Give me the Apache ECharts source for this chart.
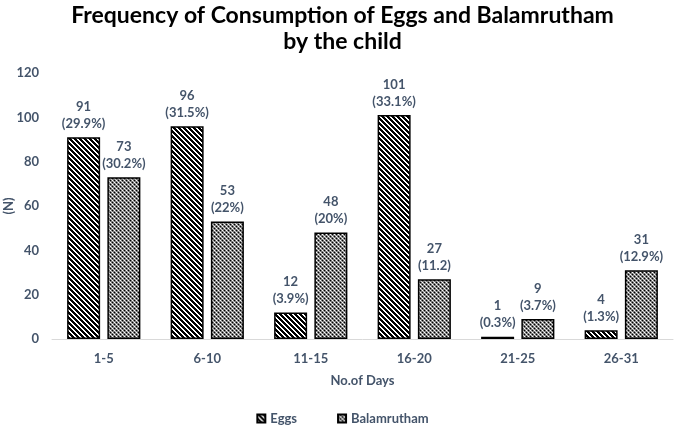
<!DOCTYPE html>
<html><head><meta charset="utf-8">
<script src="https://cdn.jsdelivr.net/npm/echarts@6/dist/echarts.min.js"></script>
<style>html,body{margin:0;padding:0;background:#fff}#c{width:685px;height:426px}</style>
</head><body><div id="c"></div>
<script>
const categories = ['1-5','6-10','11-15','16-20','21-25','26-31'];
const eggs = [91, 96, 12, 101, 1, 4];
const eggsPct = ['(29.9%)','(31.5%)','(3.9%)','(33.1%)','(0.3%)','(1.3%)'];
const balamrutham = [73, 53, 48, 27, 9, 31];
const balamruthamPct = ['(30.2%)','(22%)','(20%)','(11.2)','(3.7%)','(12.9%)'];
const yTicks = [0, 20, 40, 60, 80, 100, 120];

function stripeTile(){
  const c = document.createElement('canvas'); c.width = 5; c.height = 5;
  const g = c.getContext('2d');
  g.fillStyle = '#fff'; g.fillRect(0,0,5,5);
  g.fillStyle = '#000';
  for (let y = 0; y < 5; y++) {
    for (let k = 0; k < 3; k++) { const x = (y + k) % 5; g.fillRect(x, y, 1, 1); }
  }
  return c;
}
function checkTile(){
  const c = document.createElement('canvas'); c.width = 4; c.height = 4;
  const g = c.getContext('2d');
  g.fillStyle = '#7a7a7a'; g.fillRect(0,0,4,4);
  g.fillStyle = '#fff'; g.fillRect(0,0,1,1); g.fillRect(2,2,1,1);
  g.fillStyle = '#000'; g.fillRect(2,0,1,1); g.fillRect(0,2,1,1);
  g.fillStyle = '#c8c8c8'; g.fillRect(1,1,1,1); g.fillRect(3,3,1,1);
  return c;
}
const txt = '#44546A';
const font = 'Lato';
const chart = echarts.init(document.getElementById('c'));
function lbl(pcts){
  return { show: true, position: 'top', distance: 5, color: txt, fontFamily: font, fontWeight: 'bold', fontSize: 13, lineHeight: 17,
    formatter: p => p.value + '\n' + pcts[p.dataIndex] };
}
chart.setOption({
  animation: false,
  title: { text: 'Frequency of Consumption of Eggs and Balamrutham\nby the child', left: 'center', top: -2,
    textStyle: { fontFamily: font, fontWeight: 'bold', fontSize: 23, lineHeight: 26, color: '#000' } },
  grid: { left: 52, right: 12, top: 73, bottom: 87, outerBoundsMode: 'none', containLabel: false },
  legend: { top: 412, left: 'center', padding: 0, itemWidth: 8, itemHeight: 8, itemGap: 40, icon: 'rect',
    textStyle: { color: txt, fontFamily: font, fontWeight: 'bold', fontSize: 13, padding: [0,0,0,0] },
    data: ['Eggs','Balamrutham'] },
  xAxis: { type: 'category', data: categories, name: 'No.of Days', nameLocation: 'middle', nameGap: 35, nameMoveOverlap: false,
    nameTextStyle: { color: txt, fontFamily: font, fontWeight: 'bold', fontSize: 13 },
    axisLine: { lineStyle: { color: '#D9D9D9', width: 1 } }, axisTick: { show: false },
    axisLabel: { color: txt, fontFamily: font, fontWeight: 'bold', fontSize: 13, margin: 13 } },
  yAxis: { type: 'value', min: yTicks[0], max: yTicks[yTicks.length-1], interval: 20, name: '(N)', nameLocation: 'middle', nameGap: 37, nameMoveOverlap: false,
    nameTextStyle: { color: txt, fontFamily: font, fontWeight: 'bold', fontSize: 13 },
    splitLine: { show: false }, axisLine: { show: false }, axisTick: { show: false },
    axisLabel: { color: txt, fontFamily: font, fontWeight: 'bold', fontSize: 13, margin: 13 } },
  series: [
    { name: 'Eggs', type: 'bar', data: eggs, barWidth: 33, barGap: '22%',
      itemStyle: { color: { image: stripeTile(), repeat: 'repeat' }, borderColor: '#000', borderWidth: 1.5 },
      label: lbl(eggsPct) },
    { name: 'Balamrutham', type: 'bar', data: balamrutham, barWidth: 33,
      itemStyle: { color: { image: checkTile(), repeat: 'repeat' }, borderColor: '#000', borderWidth: 1.5 },
      label: lbl(balamruthamPct) }
  ]
});
</script></body></html>
